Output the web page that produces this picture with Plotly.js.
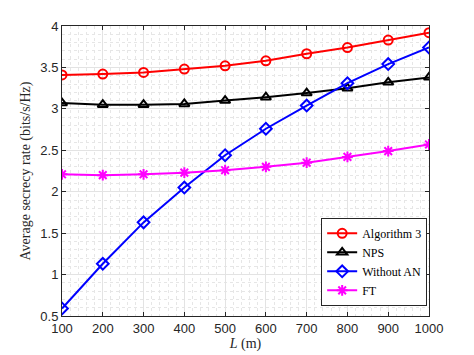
<!DOCTYPE html>
<html><head><meta charset="utf-8">
<script src="https://cdn.plot.ly/plotly-3.0.1.min.js"></script>
<style>html,body{margin:0;padding:0;background:#fff}#c{width:474px;height:355px}</style>
</head><body><div id="c"></div>
<script>
const L = [100,200,300,400,500,600,700,800,900,1000];
const alg3 = [3.41,3.42,3.44,3.48,3.52,3.58,3.665,3.74,3.83,3.92];
const nps = [3.07,3.05,3.05,3.06,3.10,3.14,3.19,3.25,3.32,3.38];
const withoutAN = [0.59,1.13,1.63,2.05,2.44,2.76,3.04,3.31,3.54,3.74];
const ft = [2.21,2.20,2.21,2.23,2.26,2.30,2.35,2.42,2.49,2.57];
const names = ['Algorithm 3','NPS','Without AN','FT'];
const xticks = [100,200,300,400,500,600,700,800,900,1000];
const yticks = [0.5,1,1.5,2,2.5,3,3.5,4];

function tr(y,name,color,sym){
  return {x:L,y:y,name:name,mode:'lines+markers',type:'scatter',
    line:{color:color,width:2},
    marker:{symbol:sym,size:9,color:color,line:{color:color,width:2}}};
}
const data=[
  tr(alg3,names[0],'#ff0000','circle-open'),
  tr(nps,names[1],'#000000','triangle-up-open'),
  tr(withoutAN,names[2],'#0000ff','diamond-open'),
  tr(ft,names[3],'#ff00ff','asterisk-open')
];
const axcommon={showline:true,mirror:'ticks',linecolor:'#262626',linewidth:1,
  ticks:'inside',ticklen:4,tickcolor:'#262626',gridcolor:'#e3e3e3',gridwidth:1,
  zeroline:false,tickfont:{family:'Liberation Sans, Arial, sans-serif',size:13,color:'#262626'}};
const layout={
  width:474,height:355,margin:{l:62,r:45,t:26,b:39},
  paper_bgcolor:'#fff',plot_bgcolor:'#fff',showlegend:true,
  xaxis:Object.assign({},axcommon,{range:[100,1000],tickvals:xticks,
    minor:{dtick:20,showgrid:true,gridcolor:'#e6e6e6',griddash:'dot',gridwidth:1,ticks:''},
    title:{text:'<i>L</i> (m)',font:{family:'Liberation Serif, Times New Roman, serif',size:14,color:'#262626'},standoff:2}}),
  yaxis:Object.assign({},axcommon,{range:[0.5,4],tickvals:yticks,ticktext:yticks.map(v=>String(v)),
    minor:{dtick:0.1,showgrid:true,gridcolor:'#e6e6e6',griddash:'dot',gridwidth:1,ticks:''},
    title:{text:'Average secrecy rate (bits/s/Hz)',font:{family:'Liberation Serif, Times New Roman, serif',size:14,color:'#262626'},standoff:6}}),
  legend:{x:0.995,y:0.035,xanchor:'right',yanchor:'bottom',bgcolor:'#fff',bordercolor:'#262626',borderwidth:1,
    font:{family:'Liberation Serif, Times New Roman, serif',size:12,color:'#000'},
    tracegroupgap:0,itemwidth:30}
};
Plotly.newPlot('c',data,layout,{staticPlot:true,displayModeBar:false});
</script></body></html>
